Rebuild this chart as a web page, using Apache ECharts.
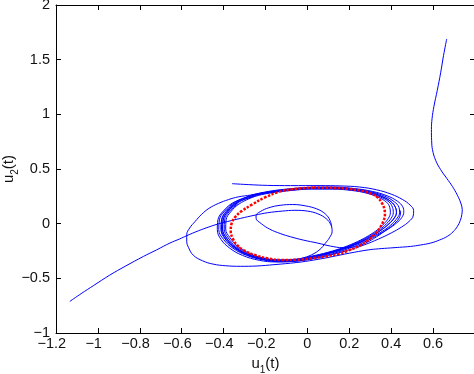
<!DOCTYPE html>
<html><head><meta charset="utf-8">
<script src="https://cdn.jsdelivr.net/npm/echarts@6/dist/echarts.min.js"></script>
<style>html,body{margin:0;padding:0;background:#fff}#c{width:474px;height:374px}</style>
</head><body><div id="c"></div>
<script>
// Axis ticks
const xTicks = [-1.2, -1, -0.8, -0.6, -0.4, -0.2, 0, 0.2, 0.4, 0.6];
const yTicks = [-1, -0.5, 0, 0.5, 1, 1.5, 2];

// Trajectory 1: from top right, swings right, then big outer loop on the left
const t1Path = [
[0.665,1.69],[0.65,1.54],[0.636,1.38],[0.62,1.22],[0.604,1.073],[0.595,0.96],[0.592,0.86],[0.593,0.76],[0.597,0.677],[0.612,0.58],[0.636,0.494],[0.665,0.415],[0.692,0.341],[0.716,0.26],[0.732,0.189],[0.739,0.13],[0.737,0.082],[0.73,0.03],[0.716,-0.025],[0.695,-0.075],[0.668,-0.116],[0.63,-0.15],[0.589,-0.177],[0.54,-0.195],[0.493,-0.208],[0.44,-0.216],[0.397,-0.222],[0.34,-0.23],[0.29,-0.24],[0.2,-0.27],[0.11,-0.305],[0.03,-0.333],[-0.05,-0.355],[-0.16,-0.375],[-0.24,-0.387],[-0.32,-0.39],[-0.39,-0.385],[-0.45,-0.37],[-0.5,-0.34],[-0.544,-0.29],[-0.567,-0.22],[-0.576,-0.16],[-0.576,-0.1],[-0.562,-0.04],[-0.536,0.02],[-0.505,0.085],[-0.47,0.14],[-0.425,0.185],[-0.377,0.22],[-0.33,0.245]
];
// Trajectory 2: from bottom left, inner loop, then onto the cycle
const t2Path = [
[-1.134,-0.711],[-1.08,-0.64],[-1.02,-0.565],[-0.943,-0.47],[-0.87,-0.39],[-0.783,-0.3],[-0.72,-0.24],[-0.656,-0.177],[-0.61,-0.14],[-0.576,-0.11],[-0.52,-0.065],[-0.47,-0.03],[-0.43,-0.005],[-0.38,0.02],[-0.32,0.048],[-0.25,0.078],[-0.19,0.1],[-0.12,0.115],[-0.06,0.122],[0.0,0.115],[0.05,0.09],[0.09,0.045],[0.112,-0.01],[0.118,-0.07],[0.105,-0.13],[0.085,-0.18],[0.06,-0.235],[0.02,-0.285],[-0.03,-0.318],[-0.08,-0.335],[-0.13,-0.34],[-0.21,-0.324],[-0.285,-0.282],[-0.348,-0.218],[-0.39,-0.14],[-0.41,-0.05],[-0.408,0.035],[-0.385,0.112],[-0.34,0.19]
];
// Trajectory 3: from upper left, widest right swing
const t3Path = [
[-0.36,0.366],[-0.28,0.357],[-0.19,0.35],[-0.08,0.348],[0.06,0.348],[0.16,0.345],[0.25,0.335],[0.33,0.31],[0.4,0.27],[0.455,0.22],[0.49,0.17],[0.507,0.12],[0.505,0.07],[0.485,0.02],[0.45,-0.03],[0.4,-0.085],[0.34,-0.14],[0.27,-0.195],[0.19,-0.245],[0.1,-0.29],[0.01,-0.325],[-0.07,-0.345],[-0.15,-0.35],[-0.23,-0.335],[-0.31,-0.29],[-0.37,-0.225],[-0.412,-0.145],[-0.43,-0.055],[-0.427,0.035],[-0.4,0.118],[-0.35,0.197]
];
// Inner cusp loop (leaves the bundle at lower right)
const t4Path = [
[0.445,0.12],[0.44,0.06],[0.415,0.0],[0.375,-0.06],[0.33,-0.12],[0.28,-0.175],[0.23,-0.21],[0.17,-0.22],[0.11,-0.205],[0.05,-0.178],[-0.02,-0.15],[-0.08,-0.12],[-0.13,-0.09],[-0.18,-0.05],[-0.22,0.0],[-0.245,0.05],[-0.245,0.075],[-0.225,0.11],[-0.185,0.145],[-0.13,0.168],[-0.07,0.175],[-0.01,0.163],[0.045,0.135],[0.085,0.09],[0.108,0.03],[0.116,-0.03]
];
// Loops of the converging bundle
const loopA = [[-0.27,0.262],[-0.18,0.297],[-0.08,0.32],[0.02,0.333],[0.12,0.335],[0.22,0.322],[0.31,0.295],[0.38,0.255],[0.43,0.205],[0.455,0.155],[0.46,0.105],[0.45,0.055],[0.425,0.005],[0.385,-0.05],[0.33,-0.11],[0.27,-0.17],[0.2,-0.225],[0.12,-0.275],[0.04,-0.315],[-0.05,-0.342],[-0.13,-0.348],[-0.21,-0.332],[-0.29,-0.29],[-0.355,-0.225],[-0.4,-0.145],[-0.423,-0.055],[-0.42,0.035],[-0.395,0.115],[-0.345,0.195]];
const loopB = [[-0.27,0.258],[-0.18,0.292],[-0.08,0.316],[0.02,0.328],[0.12,0.33],[0.22,0.317],[0.31,0.288],[0.37,0.25],[0.415,0.2],[0.437,0.15],[0.44,0.1],[0.428,0.05],[0.405,0.0],[0.37,-0.055],[0.32,-0.11],[0.26,-0.168],[0.19,-0.222],[0.11,-0.272],[0.03,-0.31],[-0.05,-0.337],[-0.13,-0.343],[-0.21,-0.327],[-0.29,-0.285],[-0.35,-0.22],[-0.393,-0.14],[-0.413,-0.05],[-0.41,0.035],[-0.387,0.115],[-0.34,0.192]];
const loopC = [[-0.265,0.255],[-0.18,0.288],[-0.08,0.312],[0.02,0.324],[0.12,0.325],[0.22,0.312],[0.3,0.285],[0.36,0.245],[0.4,0.2],[0.42,0.15],[0.425,0.1],[0.414,0.05],[0.39,0.0],[0.355,-0.055],[0.31,-0.11],[0.255,-0.165],[0.185,-0.22],[0.105,-0.268],[0.025,-0.305],[-0.05,-0.332],[-0.13,-0.338],[-0.21,-0.322],[-0.285,-0.28],[-0.345,-0.215],[-0.385,-0.135],[-0.405,-0.05],[-0.402,0.035],[-0.38,0.11],[-0.335,0.188]];
const loopD = [[-0.26,0.25],[-0.18,0.283],[-0.08,0.307],[0.02,0.32],[0.12,0.32],[0.21,0.308],[0.29,0.282],[0.35,0.243],[0.39,0.198],[0.406,0.15],[0.41,0.1],[0.4,0.05],[0.378,0.0],[0.345,-0.055],[0.3,-0.11],[0.245,-0.165],[0.18,-0.218],[0.1,-0.265],[0.02,-0.302],[-0.05,-0.328],[-0.13,-0.334],[-0.21,-0.318],[-0.28,-0.275],[-0.34,-0.21],[-0.378,-0.13],[-0.397,-0.05],[-0.395,0.035],[-0.373,0.11],[-0.33,0.185]];
const loopE = [[-0.255,0.247],[-0.18,0.28],[-0.08,0.303],[0.02,0.316],[0.12,0.316],[0.21,0.304],[0.285,0.278],[0.34,0.24],[0.378,0.196],[0.393,0.15],[0.396,0.1],[0.387,0.05],[0.366,0.0],[0.335,-0.055],[0.292,-0.11],[0.24,-0.163],[0.175,-0.215],[0.098,-0.262],[0.018,-0.298],[-0.05,-0.324],[-0.13,-0.33],[-0.21,-0.314],[-0.275,-0.272],[-0.333,-0.207],[-0.37,-0.127],[-0.39,-0.05],[-0.388,0.035],[-0.366,0.108],[-0.325,0.182],[-0.255,0.247]];
// Limit cycle (red dotted)
const redCycle = [[0.03,0.33],[0.13,0.327],[0.2,0.318],[0.26,0.3],[0.305,0.275],[0.335,0.24],[0.355,0.19],[0.368,0.13],[0.37,0.08],[0.362,0.02],[0.345,-0.04],[0.32,-0.1],[0.29,-0.15],[0.246,-0.205],[0.19,-0.25],[0.15,-0.276],[0.086,-0.3],[0.03,-0.315],[-0.05,-0.33],[-0.12,-0.332],[-0.19,-0.317],[-0.25,-0.287],[-0.3,-0.247],[-0.335,-0.197],[-0.355,-0.14],[-0.366,-0.07],[-0.362,0.0],[-0.345,0.06],[-0.315,0.113],[-0.265,0.174],[-0.2,0.242],[-0.14,0.288],[-0.07,0.316],[0.03,0.33]];

const BLUE = '#0000ff';
const TXT = '#111';
const FONT = '"Liberation Sans", Arial, Helvetica, sans-serif';
const FS = 14.5;
const fmtX = v => {
  const r = Math.round(v*10)/10;
  if (Math.abs(r-0.8) < 1e-9) return '';
  const s = String(r).replace('-', '\u2212');
  return r < 0 ? '{m|' + s + '}' : '{p|' + s + '}';
};
const fmtY = v => String(Math.round(v*10)/10).replace('-', '\u2212');

function nameRich() {
  return {
    fontFamily: FONT, color: TXT,
    rich: {
      n: { fontFamily: FONT, fontSize: 15, color: TXT, lineHeight: 22 },
      s: { fontFamily: FONT, fontSize: 10, color: TXT, verticalAlign: 'bottom', lineHeight: 10 }
    }
  };
}
const axisCommon = {
  axisLine: { show: true, onZero: false, lineStyle: { color: '#000', width: 1 } },
  axisTick: { show: true, inside: true, length: 5, lineStyle: { color: '#000', width: 1 } },
  splitLine: { show: false },
  nameMoveOverlap: false
};
function blueSeries(data) {
  return { type: 'line', data: data, showSymbol: false, symbol: 'none', smooth: 0.4,
    lineStyle: { color: BLUE, width: 1 }, animation: false, z: 2 };
}

const chart = echarts.init(document.getElementById('c'), null, { renderer: 'canvas' });
chart.setOption({
  backgroundColor: '#fff',
  animation: false,
  grid: { left: 56, top: 5, right: -1, bottom: 41, containLabel: false, outerBoundsMode: 'none' },
  xAxis: [
    Object.assign({ type: 'value', position: 'bottom', min: -1.2, max: 0.8, interval: 0.2,
      axisLabel: { formatter: fmtX, fontFamily: FONT, fontSize: FS, color: TXT, margin: 3,
        rich: {
          m: { fontFamily: FONT, fontSize: FS, color: TXT, padding: [0, 8.5, 0, 0] },
          p: { fontFamily: FONT, fontSize: FS, color: TXT }
        } },
      name: '{n|u}{s|1}{n|(t)}', nameLocation: 'middle', nameGap: 20, nameTextStyle: nameRich() }, axisCommon),
    Object.assign({ type: 'value', position: 'top', min: -1.2, max: 0.8, interval: 0.2,
      axisLabel: { show: false } }, axisCommon)
  ],
  yAxis: [
    Object.assign({ type: 'value', position: 'left', min: -1, max: 2, interval: 0.5,
      axisLabel: { formatter: fmtY, fontFamily: FONT, fontSize: FS, color: TXT, margin: 6 },
      name: '{n|u}{s|2}{n|(t)}', nameLocation: 'middle', nameGap: 36, nameRotate: 90, nameTextStyle: nameRich() }, axisCommon),
    Object.assign({ type: 'value', position: 'right', min: -1, max: 2, interval: 0.5,
      axisLabel: { show: false } }, axisCommon)
  ],
  series: [
    blueSeries(t1Path.concat(loopA, loopC)),
    blueSeries(t2Path.concat(loopB, loopE)),
    blueSeries(t3Path.concat(loopC, loopD)),
    blueSeries(t4Path),
    { type: 'line', data: redCycle, showSymbol: false, symbol: 'none', smooth: 0.4,
      lineStyle: { color: '#ff0000', width: 2.5, type: [2.5, 1.5] }, animation: false, z: 5 }
  ]
});
</script></body></html>
